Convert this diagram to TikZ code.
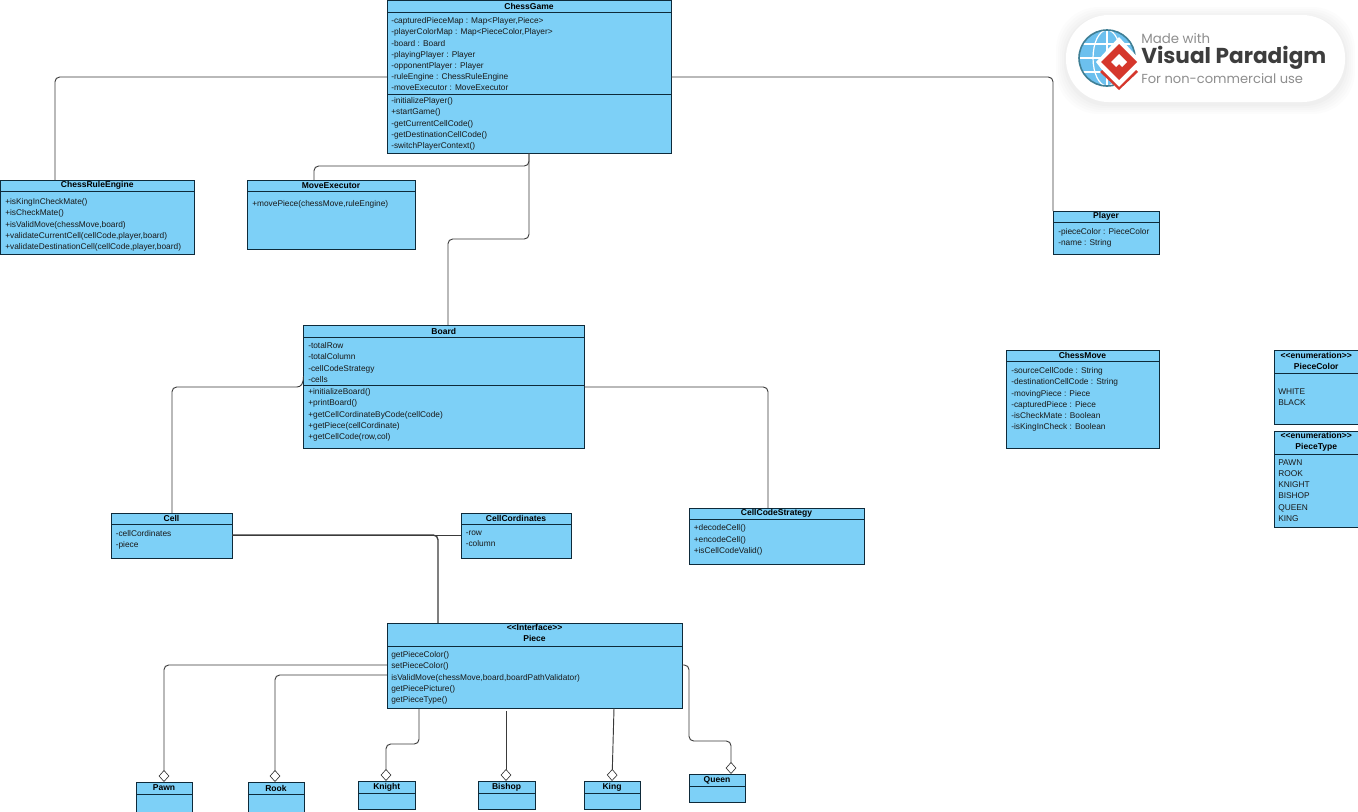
\documentclass[tikz,border=0pt]{standalone}
\usepackage{fontspec}
\setmainfont{Liberation Sans}
\newfontfamily\wmfont{Poppins}
\usetikzlibrary{arrows.meta}
\definecolor{umlfill}{HTML}{7DD0F7}
\definecolor{umlline}{HTML}{0E2A3A}
\definecolor{connline}{HTML}{3A3A3A}
\definecolor{wmgray}{HTML}{8E8E8E}
\definecolor{wmdark}{HTML}{3D3D3D}
\definecolor{wmred}{HTML}{D5372C}
\definecolor{wmblue}{HTML}{6CC0EE}
\definecolor{wmring}{HTML}{3F7F95}
\tikzset{
  classbox/.style={draw=umlline,fill=umlfill,line width=0.75pt,rectangle,inner sep=0,outer sep=0},
  classtitle/.style={font=\fontsize{6.4}{8.3}\selectfont\bfseries,align=center,inner sep=0,text=black},
  members/.style={font=\fontsize{6.25}{8.4}\selectfont,align=left,anchor=north west,inner sep=0,text=black!90,execute at begin node=\strut},
  divider/.style={draw=umlline,line width=0.75pt},
  conn/.style={draw=connline,line width=0.7pt,rounded corners=3.5pt},
  aggr/.style={conn,-{Diamond[open,fill=white,length=9pt,width=8pt,line width=0.5pt]}},
}
\def\titleshift{0pt}
% name, x0, y0, x1, y1, header bottom, title
\newcommand{\umlclass}[7]{%
  \pgfmathsetlengthmacro\clsw{(#4-#2)*0.75pt}%
  \pgfmathsetlengthmacro\clsh{(#5-#3)*0.75pt}%
  \node[classbox,anchor=north west,minimum width=\clsw,minimum height=\clsh] (#1) at (#2,#3) {};
  \draw[divider] (#2,#6) -- (#4,#6);
  \node[classtitle,yshift=\titleshift] (#1-title) at ({(#2+#4)/2},{(#3+#6)/2}) {#7};
}
\begin{document}
\begin{tikzpicture}[x=0.75pt,y=-0.75pt]
\useasboundingbox (0,0) rectangle (1358,811);
\clip (0,0) rectangle (1358,811);

% watermark
\foreach \g/\o in {10/0.010,8/0.010,6/0.012,4/0.012,2/0.014}{
  \fill[black,opacity=\o,rounded corners=32pt] (1066-\g,15-\g+2) rectangle (1345+\g,102+\g+2);
}
\fill[white,rounded corners=32pt] (1066,15) rectangle (1345,102);
\begin{scope}
  \fill[wmblue] (1107,58) circle[radius=28];
  \draw[white,line width=0.9pt] (1107,30) -- (1107,86) (1079,58) -- (1135,58)
     (1083,44) -- (1131,44) (1083,72) -- (1131,72);
  \draw[white,line width=0.9pt] (1107,58) ellipse[x radius=14,y radius=28];
  \draw[wmring,line width=1.2pt] (1107,58) circle[radius=28];
  \fill[white] (1119,37) -- (1142,62) -- (1119,92) -- (1096,62) -- cycle;
  \fill[wmred] (1119,44) -- (1137,62) -- (1119,80) -- (1101,62) -- cycle;
  \fill[wmred] (1102,70) -- (1119,87) -- (1136,70) -- (1138,72) -- (1119,90) -- (1100,72) -- cycle;
  \fill[white] (1119,54) -- (1127,62) -- (1122,67) -- (1119,64) -- (1116,67) -- (1111,62) -- cycle;
\end{scope}
\node[anchor=west,inner sep=0,text=wmgray,font=\wmfont\fontsize{10}{12}\selectfont] (wm1) at (1141,38) {Made with};
\node[anchor=west,inner sep=0,text=wmdark,font=\wmfont\bfseries\fontsize{16.2}{20}\selectfont] (wm2) at (1141,58) {Visual Paradigm};
\node[anchor=west,inner sep=0,text=wmgray,font=\wmfont\fontsize{9.8}{11}\selectfont] (wm3) at (1141,79) {For non-commercial use};

% classes
\umlclass{game}{387}{0.5}{671}{153}{12.5}{ChessGame}
\draw[divider] (387,94) -- (671,94);
\node[members] (gameA) at (391,17.3) {-capturedPieceMap : Map<Player,Piece>\\-playerColorMap : Map<PieceColor,Player>\\-board : Board\\-playingPlayer : Player\\-opponentPlayer : Player\\-ruleEngine : ChessRuleEngine\\-moveExecutor : MoveExecutor};
\node[members] (gameM) at (391,97.3) {-initializePlayer()\\+startGame()\\-getCurrentCellCode()\\-getDestinationCellCode()\\-switchPlayerContext()};

\umlclass{engine}{0.5}{180}{194}{254}{191}{ChessRuleEngine}
\node[members] (engineM) at (5,198.3) {+isKingInCheckMate()\\+isCheckMate()\\+isValidMove(chessMove,board)\\+validateCurrentCell(cellCode,player,board)\\+validateDestinationCell(cellCode,player,board)};

\umlclass{exec}{247}{180}{415}{249}{191}{MoveExecutor}
\node[members] (execM) at (252,198.3) {+movePiece(chessMove,ruleEngine)};

\umlclass{player}{1053}{211}{1159}{254}{222}{Player}
\node[members] (playerA) at (1058,228.3) {-pieceColor : PieceColor\\-name : String};

\umlclass{board}{303.5}{325}{584}{448}{337}{Board}
\draw[divider] (303.5,385) -- (584,385);
\node[members] (boardA) at (308,342.3) {-totalRow\\-totalColumn\\-cellCodeStrategy\\-cells};
\node[members] (boardM) at (308,388.3) {+initializeBoard()\\+printBoard()\\+getCellCordinateByCode(cellCode)\\+getPiece(cellCordinate)\\+getCellCode(row,col)};

\umlclass{move}{1006}{350}{1159}{448}{361}{ChessMove}
\node[members] (moveA) at (1011,367.3) {-sourceCellCode : String\\-destinationCellCode : String\\-movingPiece : Piece\\-capturedPiece : Piece\\-isCheckMate : Boolean\\-isKingInCheck : Boolean};

\def\titleshift{0.75pt}
\umlclass{color}{1274}{350}{1358.5}{424}{373}{{<}{<}enumeration{>}{>}\\PieceColor}
\node[members] (colorA) at (1278,388.3) {WHITE\\BLACK};

\umlclass{ptype}{1274}{431}{1358.5}{527}{454}{{<}{<}enumeration{>}{>}\\PieceType}
\node[members] (ptypeA) at (1278,459.3) {PAWN\\ROOK\\KNIGHT\\BISHOP\\QUEEN\\KING};
\def\titleshift{0pt}

\umlclass{cell}{111}{513}{232}{558}{524}{Cell}
\node[members] (cellA) at (115.5,530.3) {-cellCordinates\\-piece};

\umlclass{coord}{461}{513}{571}{558}{524}{CellCordinates}
\node[members] (coordA) at (465.5,530.3) {-row\\-column};

\umlclass{strategy}{689}{508}{864}{564}{519}{CellCodeStrategy}
\node[members] (strategyM) at (693.5,524.5) {+decodeCell()\\+encodeCell()\\+isCellCodeValid()};

\def\titleshift{1.1pt}
\umlclass{piece}{387}{623}{682}{708}{646}{{<}{<}Interface{>}{>}\\Piece}
\def\titleshift{0pt}
\node[members] (pieceM) at (391,651.3) {getPieceColor()\\setPieceColor()\\isValidMove(chessMove,board,boardPathValidator)\\getPiecePicture()\\getPieceType()};

\umlclass{pawn}{136}{782}{192}{812}{794}{Pawn}
\umlclass{rook}{248}{782}{304}{812}{794}{Rook}
\umlclass{knight}{358.5}{781}{415}{809}{793}{Knight}
\umlclass{bishop}{478}{781}{535}{809}{793}{Bishop}
\umlclass{king}{584}{781}{640}{809}{793}{King}
\umlclass{queen}{689}{774}{745}{802}{786}{Queen}

% junction and free-end points
\coordinate (gameOut) at (529,153);
\coordinate (bishopFree) at (506,711);

% connectors
\draw[conn] (game.west |- 0,77) -- (55,77) -- (engine.north -| 55,0);
\draw[conn] (game.east |- 0,77) -- (1053,77) -- (player.north -| 1053,0);
\draw[conn] (gameOut) -- (529,166) -- (314,166) -- (exec.north -| 314,0);
\draw[conn] (gameOut) -- (529,239) -- (448,239) -- (board.north -| 448,0);
\draw[conn] (board.west |- 0,376) .. controls (303.5,384) and (301,387) .. (292,387) -- (172,387) -- (cell.north -| 172,0);
\draw[conn] (board.east |- 0,387) -- (768,387) -- (strategy.north -| 768,0);
\draw[conn,line width=1pt] (cell.east |- 0,535) -- (438,535) -- (piece.north -| 438,0);
\draw[conn,line width=0.5pt] (coord.west |- 0,535) -- (cell.east |- 0,535);
\draw[aggr] (piece.west |- 0,665) -- (164,665) -- (pawn.north -| 164,0);
\draw[aggr] (piece.west |- 0,675) -- (275,675) -- (rook.north -| 275,0);
\draw[aggr] (piece.south -| 419,0) -- (419,744) -- (386,744) -- (knight.north -| 386,0);
\draw[aggr] (bishopFree) -- (bishop.north -| 506,0);
\draw[aggr] (piece.south -| 614,0) -- (king.north -| 612,0);
\draw[aggr] (piece.east |- 0,665) -- (689,665) -- (689,741) -- (731,741) -- (queen.north -| 731,0);
\end{tikzpicture}
\end{document}
